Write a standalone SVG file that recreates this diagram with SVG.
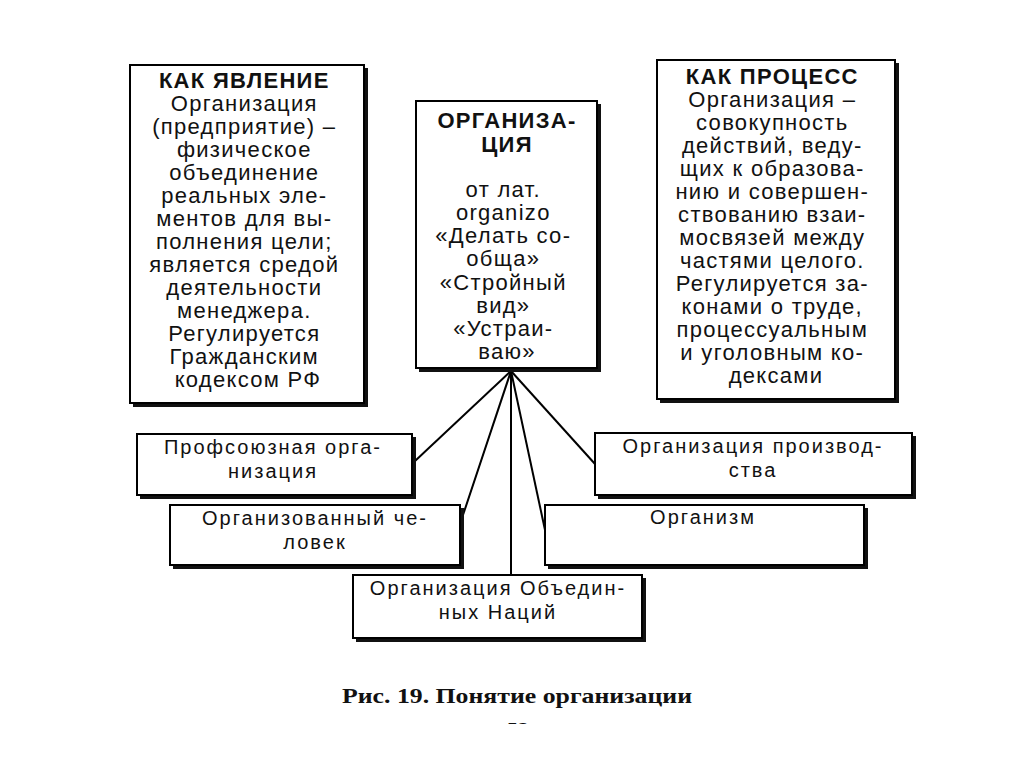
<svg xmlns="http://www.w3.org/2000/svg" width="1024" height="767" viewBox="0 0 1024 767">
<defs>
<style>
.bx{fill:#fff;stroke:#000;stroke-width:2}
.sh{fill:#111}
.t{font-family:"Liberation Sans",Arial,sans-serif;font-size:22px;letter-spacing:1.3px;fill:#111;text-anchor:middle}
.s{font-family:"Liberation Sans",Arial,sans-serif;font-size:20px;letter-spacing:2px;fill:#111;text-anchor:middle}
.b{font-weight:bold}
.ln{stroke:#000;stroke-width:2;fill:none}
.cap{font-family:"Liberation Serif","Times New Roman",serif;font-size:22px;font-weight:bold;fill:#111;text-anchor:middle}
</style>
<clipPath id="cut"><rect x="0" y="700" width="1024" height="24"/></clipPath>
</defs>
<rect width="1024" height="767" fill="#fff"/>

<g id="connectors">
<line class="ln" x1="511" y1="371" x2="415" y2="461"/>
<line class="ln" x1="511" y1="371" x2="462" y2="518"/>
<line class="ln" x1="511" y1="371" x2="511" y2="575"/>
<line class="ln" x1="511" y1="371" x2="545" y2="530"/>
<line class="ln" x1="511" y1="371" x2="595" y2="464"/>
</g>

<g id="node-phenomenon">
<rect class="sh" x="133" y="68" width="235" height="339"/>
<rect class="bx" x="130" y="65" width="234" height="338"/>
<text class="t" x="248" y="88"><tspan class="b">КАК ЯВЛЕНИЕ</tspan>
<tspan x="248" y="111">Организация</tspan>
<tspan x="248" y="134">(предприятие) –</tspan>
<tspan x="248" y="157">физическое</tspan>
<tspan x="248" y="180">объединение</tspan>
<tspan x="248" y="203">реальных эле-</tspan>
<tspan x="248" y="226">ментов для вы-</tspan>
<tspan x="248" y="249">полнения цели;</tspan>
<tspan x="248" y="272">является средой</tspan>
<tspan x="248" y="295">деятельности</tspan>
<tspan x="248" y="318">менеджера.</tspan>
<tspan x="248" y="341">Регулируется</tspan>
<tspan x="248" y="364">Гражданским</tspan>
<tspan x="248" y="387">кодексом РФ</tspan></text>
</g>

<g id="node-organization">
<rect class="sh" x="419" y="104" width="182" height="268"/>
<rect class="bx" x="416" y="101" width="181" height="267" stroke-width="3"/>
<text class="t b" x="507" y="128">ОРГАНИЗА-<tspan x="507" y="152">ЦИЯ</tspan></text>
<text class="t" x="507" y="197">от лат.
<tspan x="507" y="220">organizo</tspan>
<tspan x="507" y="243">«Делать со-</tspan>
<tspan x="507" y="266">обща»</tspan>
<tspan x="507" y="290">«Стройный</tspan>
<tspan x="507" y="313">вид»</tspan>
<tspan x="507" y="336">«Устраи-</tspan>
<tspan x="507" y="359">ваю»</tspan></text>
</g>

<g id="node-process">
<rect class="sh" x="660" y="63" width="239" height="340"/>
<rect class="bx" x="657" y="60" width="238" height="339"/>
<text class="t" x="776" y="84"><tspan class="b">КАК ПРОЦЕСС</tspan>
<tspan x="776" y="107">Организация –</tspan>
<tspan x="776" y="130">совокупность</tspan>
<tspan x="776" y="153">действий, веду-</tspan>
<tspan x="776" y="176">щих к образова-</tspan>
<tspan x="776" y="199">нию и совершен-</tspan>
<tspan x="776" y="222">ствованию взаи-</tspan>
<tspan x="776" y="245">мосвязей между</tspan>
<tspan x="776" y="268">частями целого.</tspan>
<tspan x="776" y="291">Регулируется за-</tspan>
<tspan x="776" y="314">конами о труде,</tspan>
<tspan x="776" y="337">процессуальным</tspan>
<tspan x="776" y="360">и уголовным ко-</tspan>
<tspan x="776" y="383">дексами</tspan></text>
</g>

<g id="node-union">
<rect class="sh" x="140" y="437" width="276" height="62"/>
<rect class="bx" x="137" y="434" width="275" height="61"/>
<text class="s" x="273" y="454">Профсоюзная орга-<tspan x="273" y="478">низация</tspan></text>
</g>

<g id="node-person">
<rect class="sh" x="173" y="508" width="291" height="61"/>
<rect class="bx" x="170" y="505" width="290" height="60"/>
<text class="s" x="315" y="525">Организованный че-<tspan x="315" y="549">ловек</tspan></text>
</g>

<g id="node-un">
<rect class="sh" x="356" y="578" width="290" height="64"/>
<rect class="bx" x="353" y="575" width="289" height="63"/>
<text class="s" x="498" y="595">Организация Объедин-<tspan x="498" y="619">ных Наций</tspan></text>
</g>

<g id="node-production">
<rect class="sh" x="598" y="436" width="318" height="63"/>
<rect class="bx" x="595" y="433" width="317" height="62"/>
<text class="s" x="753" y="453">Организация производ-<tspan x="753" y="477">ства</tspan></text>
</g>

<g id="node-organism">
<rect class="sh" x="548" y="508" width="320" height="61"/>
<rect class="bx" x="545" y="505" width="319" height="60"/>
<text class="s" x="703" y="524">Организм</text>
</g>

<text class="cap" x="517" y="703" textLength="350" lengthAdjust="spacingAndGlyphs">Рис. 19. Понятие организации</text>
<text class="cap" x="518" y="737" clip-path="url(#cut)">52</text>
</svg>
